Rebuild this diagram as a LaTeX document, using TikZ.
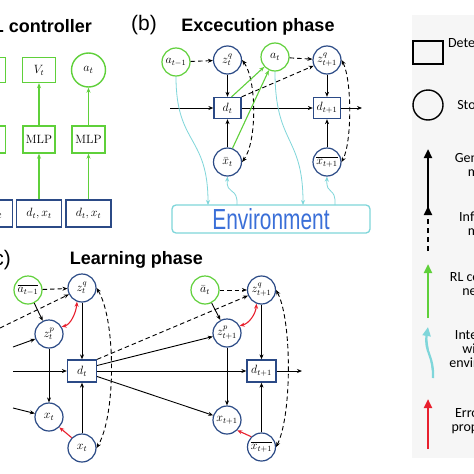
\documentclass[tikz,border=0pt]{standalone}
\usepackage{amsmath}
\usepackage{amssymb}
\usepackage{xcolor}
\usepackage{graphicx}
\usepackage{fontspec}
\setsansfont{Liberation Sans}
\newfontfamily\legendfont{Carlito}
\usetikzlibrary{arrows.meta}

\definecolor{navy}{HTML}{2B4A86}
\definecolor{lime}{HTML}{5FD03A}
\definecolor{aqua}{HTML}{7FD6DA}
\definecolor{envblue}{HTML}{3A6FD8}
\definecolor{errred}{HTML}{E8202E}
\definecolor{legendbg}{HTML}{F6F6F6}

\begin{document}
\begin{tikzpicture}[x=1pt,y=-1pt,>={Stealth[length=5pt,width=4pt]},
		state/.style={circle,draw=navy,line width=1.2pt,minimum size=28pt,inner sep=0pt,font=\fontsize{12}{14}\selectfont},
		actstate/.style={state,draw=lime},
		det/.style={rectangle,draw=navy,line width=1.3pt,minimum width=27pt,minimum height=21pt,inner sep=0pt,font=\fontsize{12}{14}\selectfont},
		ctrlbox/.style={rectangle,draw=lime,line width=1.4pt,minimum width=33pt,minimum height=25pt,inner sep=0pt,font=\fontsize{12}{14}\selectfont},
		inbox/.style={rectangle,draw=navy,line width=1.4pt,minimum width=45pt,minimum height=27pt,inner sep=0pt,font=\fontsize{12}{14}\selectfont},
		gen/.style={->,line width=0.9pt},
		inf/.style={gen,dash pattern=on 4.5pt off 3pt},
		ctrl/.style={gen,draw=lime,line width=1.1pt},
		envl/.style={gen,draw=aqua,line width=0.8pt},
		err/.style={gen,draw=errred,line width=1.1pt},
		paneltitle/.style={font=\sffamily\bfseries\fontsize{18}{20}\selectfont,inner sep=0pt},
		panellabel/.style={font=\sffamily\fontsize{21}{22}\selectfont,inner sep=0pt},
		legtext/.style={font=\legendfont\fontsize{14}{14}\selectfont,align=center,anchor=north,inner sep=0pt},
		legarrow/.style={line width=2.6pt,-{Triangle[length=9pt,width=8pt]}}]
	\useasboundingbox (0,0) rectangle (474,474);
	\fill[white] (0,0) rectangle (474,474);
	\clip (0,0) rectangle (474,474);

	\node[paneltitle,anchor=east] (titlea) at (92,26) {RL controller};
	\node[ctrlbox,minimum width=32pt] (out0) at (-10.5,70) {};
	\node[ctrlbox] (vt) at (39,70) {$V_t$};
	\node[circle,draw=lime,line width=1.4pt,minimum size=34pt,inner sep=0pt,font=\fontsize{13}{14}\selectfont] (at) at (88.5,70) {$a_t$};
	\node[ctrlbox,minimum width=32pt,minimum height=27pt] (mlp0) at (-10.5,139.5) {};
	\node[ctrlbox,minimum width=32pt,minimum height=27pt] (mlp1) at (39,139.5) {MLP};
	\node[ctrlbox,minimum height=27pt] (mlp2) at (88.5,139.5) {MLP};
	\node[inbox,minimum width=46pt] (in0) at (-10.5,213.5) {$d_t, x_t$};
	\node[inbox] (in1) at (39,213.5) {$d_t, x_t$};
	\node[inbox] (in2) at (88.5,213.5) {$d_t, x_t$};
	\foreach \i in {0,1,2}
		\draw[ctrl] (in\i) -- (mlp\i);
	\draw[ctrl] (mlp0) -- (out0);
	\draw[ctrl] (mlp1) -- (vt);
	\draw[ctrl] (mlp2) -- (at);

	\node[panellabel] (labb) at (144,25) {(b)};
	\node[paneltitle] (titleb) at (258,26.5) {Excecution phase};
	\node[actstate] (am1) at (176,62) {$a_{t-1}$};
	\node[state] (zqb) at (227.5,60) {$z_t^q$};
	\node[actstate] (ab) at (275,57) {$a_t$};
	\node[state] (zqb1) at (327,60) {$z_{t+1}^q$};
	\node[det] (db) at (227.5,108) {$d_t$};
	\node[det] (db1) at (327,108) {$d_{t+1}$};
	\node[state] (xbb) at (227.5,162) {$\bar{x}_t$};
	\node[state] (xbb1) at (327,162) {$\overline{x_{t+1}}$};
	\node[draw=aqua,line width=1.3pt,rounded corners=4pt,minimum width=198pt,minimum height=28pt,inner sep=0pt,text=envblue,font=\sffamily\fontsize{29}{29}\selectfont] (envbox) at (271,219) {\scalebox{0.72}[1]{Environment}};
	\coordinate (bin) at (170,108);
	\coordinate (bout) at (362,108);
	\coordinate (e1) at (208,205);
	\coordinate (e2) at (237,205);
	\coordinate (e3) at (303,205);
	\coordinate (e4) at (335,205);
	\draw[gen] (bin) -- (db);
	\draw[gen] (db) -- (db1);
	\draw[gen] (db1) -- (bout);
	\draw[gen] (zqb) -- (db);
	\draw[gen] (xbb) -- (db);
	\draw[gen] (zqb1) -- (db1);
	\draw[gen] (xbb1) -- (db1);
	\draw[inf] (am1) -- (zqb);
	\draw[inf] (ab) -- (zqb1);
	\draw[inf] (db.north east) -- (zqb1);
	\draw[inf,<->] (zqb.east) .. controls (257,80) and (257,142) .. (xbb.east);
	\draw[inf,<->] (zqb1.east) .. controls (352,80) and (352,142) .. (xbb1.east);
	\draw[ctrl] (db.70) -- (ab);
	\draw[ctrl] (xbb.70) -- (ab);
	\draw[envl] (am1.south) .. controls (176,145) and (208,135) .. (e1);
	\draw[envl] (e2) .. controls (238,186) and (226,196) .. (xbb.south);
	\draw[envl] (ab.south) .. controls (275,145) and (303,135) .. (e3);
	\draw[envl] (e4) .. controls (336,186) and (326,196) .. (xbb1.south);

	\node[panellabel,anchor=east] (labc) at (11,260) {(c)};
	\node[paneltitle] (titlec) at (136.5,260) {Learning phase};
	\node[actstate] (abm1) at (28,290) {$\overline{a_{t-1}}$};
	\node[state] (zqt) at (82,288) {$z_t^q$};
	\node[state] (zpt) at (49,334) {$z_t^p$};
	\node[det,minimum width=29pt,minimum height=22pt] (dt) at (82,371) {$d_t$};
	\node[state] (xt) at (49,417) {$x_t$};
	\node[state] (xbt) at (82,448) {$x_t$};
	\node[actstate] (abt) at (205,290) {$\bar{a}_t$};
	\node[state] (zqt1) at (261.5,290) {$z_{t+1}^q$};
	\node[state] (zpt1) at (227,333) {$z_{t+1}^p$};
	\node[det,minimum width=29pt,minimum height=22pt] (dt1) at (261.5,371) {$d_{t+1}$};
	\node[state] (xt1) at (227,420) {$x_{t+1}$};
	\node[state] (xbt1) at (261.5,447) {$\overline{x_{t+1}}$};
	\coordinate (cl1) at (0,328);
	\coordinate (cl2) at (13,347);
	\coordinate (cl3) at (13,371);
	\coordinate (cl4) at (13,408);
	\coordinate (cout) at (302,371);
	\draw[inf] (cl1) -- (zqt);
	\draw[gen] (cl2) -- (zpt);
	\draw[gen] (cl3) -- (dt);
	\draw[gen] (cl4) -- (xt);
	\draw[inf] (abm1) -- (zqt);
	\draw[gen] (abm1) -- (zpt);
	\draw[gen] (zqt) -- (dt);
	\draw[gen] (zpt) -- (xt);
	\draw[gen] (xbt) -- (dt);
	\draw[err] (xbt.135) -- (xt.-45);
	\draw[err,<->] (zqt.250) .. controls +(-1,11) and +(9,-2) .. (zpt.30);
	\draw[inf,<->] (zqt.east) .. controls (116,320) and (116,415) .. (xbt.east);
	\draw[inf] (dt.north east) -- (zqt1);
	\draw[gen] (dt.20) -- (zpt1);
	\draw[gen] (dt) -- (dt1);
	\draw[gen] (dt.-20) -- (xt1);
	\draw[inf] (abt) -- (zqt1);
	\draw[gen] (abt) -- (zpt1);
	\draw[gen] (zqt1) -- (dt1);
	\draw[gen] (zpt1) -- (xt1);
	\draw[gen] (xbt1) -- (dt1);
	\draw[gen] (dt1) -- (cout);
	\draw[err] (xbt1.135) -- (xt1.-45);
	\draw[err,<->] (zqt1.250) .. controls +(-1,11) and +(9,-2) .. (zpt1.30);
	\draw[inf,<->] (zqt1.east) .. controls (292,320) and (292,415) .. (xbt1.east);

	\fill[legendbg] (412,15) rectangle (480,458);
	\node[draw,line width=1.4pt,minimum width=30pt,minimum height=23pt,inner sep=0pt] (lgdet) at (428,52.5) {};
	\node[circle,draw,line width=1.4pt,minimum size=30pt,inner sep=0pt] (lgsto) at (428,105) {};
	\coordinate (lg1) at (428,212);
	\coordinate (lg2) at (428,149);
	\coordinate (li1) at (428,251);
	\coordinate (li2) at (428,206);
	\coordinate (lc1) at (428,318);
	\coordinate (lc2) at (428,264);
	\coordinate (le1) at (433,378);
	\coordinate (le2) at (428,327);
	\coordinate (lr1) at (428,449);
	\coordinate (lr2) at (428,399);
	\draw[legarrow] (lg1) -- (lg2);
	\draw[legarrow,dash pattern=on 5pt off 4pt] (li1) -- (li2);
	\draw[legarrow,draw=lime,fill=lime] (lc1) -- (lc2);
	\draw[legarrow,draw=aqua,fill=aqua,line width=2.2pt] (le1) .. controls (434,355) and (424,352) .. (le2);
	\draw[legarrow,draw=errred,fill=errred] (lr1) -- (lr2);
	\node[legtext] (ltdet) at (486,38) {Deterministic};
	\node[legtext] (ltsto) at (486,100) {Stochastic};
	\node[legtext] (ltgen) at (486,153) {Generative\\model};
	\node[legtext] (ltinf) at (486,212) {Inference\\model};
	\node[legtext] (ltctl) at (486,272) {RL controller\\network};
	\node[legtext] (ltenv) at (486,330) {Interaction\\with the\\environment};
	\node[legtext] (lterr) at (486,408) {Error back-\\propagation};
\end{tikzpicture}
\end{document}
